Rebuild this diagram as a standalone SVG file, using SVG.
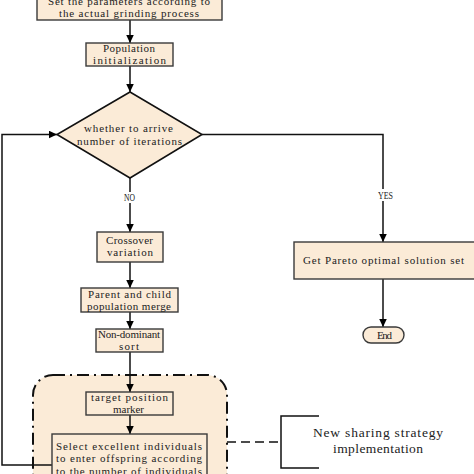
<svg xmlns="http://www.w3.org/2000/svg" width="474" height="474" viewBox="0 0 474 474">
<style>
text{font-family:"Liberation Serif","Times New Roman",serif;font-size:11px;fill:#222}
.box{fill:#FBEBD7;stroke:#3a3a3a;stroke-width:1.4}
.con{fill:none;stroke:#111;stroke-width:1.5}
.big{font-size:13.5px}
</style>
<defs>
<marker id="ah" markerWidth="9" markerHeight="8" refX="8.5" refY="4" orient="auto" markerUnits="userSpaceOnUse">
<path d="M0,0 L8.5,4 L0,8 z" fill="#000"/>
</marker>
</defs>
<rect width="474" height="474" fill="#fff"/>

<g id="container">
<rect x="33" y="375" width="194" height="140" rx="20" fill="#FBEBD7" stroke="#111" stroke-width="2" stroke-dasharray="12,5,2,5"/>
</g>

<g id="connectors">
<path class="con" d="M130,20 V43" marker-end="url(#ah)"/>
<path class="con" d="M130,66 V92" marker-end="url(#ah)"/>
<path class="con" d="M202,134.5 H383 V242" marker-end="url(#ah)"/>
<path class="con" d="M130,178 V232" marker-end="url(#ah)"/>
<path class="con" d="M130,262 V288" marker-end="url(#ah)"/>
<path class="con" d="M130,312 V329" marker-end="url(#ah)"/>
<path class="con" d="M130,352 V392" marker-end="url(#ah)"/>
<path class="con" d="M130,415 V434" marker-end="url(#ah)"/>
<path class="con" d="M383,279 V327" marker-end="url(#ah)"/>
<path class="con" d="M52,465 H2 V134.5 H57" stroke="#555" stroke-width="1.3" marker-end="url(#ah)"/>
<path class="con" d="M227,442 H281" stroke-width="2" stroke-dasharray="9,5"/>
<path class="con" d="M319,416 H281 V468 H319" stroke-width="1.8"/>
<rect x="122" y="192" width="16" height="11" fill="#fff"/>
<text x="124" y="201" font-size="9.5" textLength="11" lengthAdjust="spacingAndGlyphs">NO</text>
<rect x="376" y="189" width="19" height="12" fill="#fff"/>
<text x="378" y="199" font-size="10" textLength="15" lengthAdjust="spacingAndGlyphs">YES</text>
</g>

<g id="n-params">
<rect class="box" x="37" y="-6" width="185" height="26"/>
<text x="48" y="4.5" textLength="162" lengthAdjust="spacing">Set the parameters according to</text>
<text x="59" y="17" textLength="140" lengthAdjust="spacing">the actual grinding process</text>
</g>

<g id="n-init">
<rect class="box" x="86" y="43" width="87" height="23"/>
<text x="103" y="52" textLength="52" lengthAdjust="spacing">Population</text>
<text x="93" y="63.5" textLength="73" lengthAdjust="spacing">initialization</text>
</g>

<g id="n-decision">
<polygon points="130,92 202,134.5 130,178 57,134.5" fill="#FBEBD7" stroke="#111" stroke-width="1.6"/>
<text x="84" y="132" textLength="89" lengthAdjust="spacing">whether to arrive</text>
<text x="77" y="144.5" textLength="105" lengthAdjust="spacing">number of iterations</text>
</g>

<g id="n-pareto">
<rect class="box" x="294" y="242" width="186" height="37"/>
<text x="303" y="264" textLength="161" lengthAdjust="spacing">Get Pareto optimal solution set</text>
</g>

<g id="n-end">
<rect class="box" x="363" y="327" width="41" height="16" rx="8"/>
<text x="377" y="338.5" textLength="15" lengthAdjust="spacing">End</text>
</g>

<g id="n-crossover">
<rect class="box" x="97" y="232" width="66" height="30"/>
<text x="106" y="243.5" textLength="47" lengthAdjust="spacing">Crossover</text>
<text x="107" y="256" textLength="46" lengthAdjust="spacing">variation</text>
</g>

<g id="n-merge">
<rect class="box" x="81" y="288" width="97" height="24"/>
<text x="88" y="297.5" textLength="83" lengthAdjust="spacing">Parent and child</text>
<text x="87" y="309.5" textLength="84" lengthAdjust="spacing">population merge</text>
</g>

<g id="n-sort">
<rect class="box" x="96" y="329" width="67" height="23"/>
<text x="98" y="338" textLength="62" lengthAdjust="spacing">Non-dominant</text>
<text x="119" y="349.5" textLength="20" lengthAdjust="spacing">sort</text>
</g>

<g id="n-target">
<rect class="box" x="86" y="392" width="87" height="23"/>
<text x="91" y="400.5" textLength="77" lengthAdjust="spacing">target position</text>
<text x="113" y="413" textLength="31" lengthAdjust="spacing">marker</text>
</g>

<g id="n-select">
<rect class="box" x="52" y="434" width="155" height="60"/>
<text x="56" y="449.5" textLength="146" lengthAdjust="spacing">Select excellent individuals</text>
<text x="56" y="462" textLength="146" lengthAdjust="spacing">to enter offspring according</text>
<text x="56" y="474.5" textLength="146" lengthAdjust="spacing">to the number of individuals</text>
</g>

<g id="n-label">
<text class="big" x="313" y="437" textLength="130" lengthAdjust="spacing">New sharing strategy</text>
<text class="big" x="333" y="453" textLength="90" lengthAdjust="spacing">implementation</text>
</g>
</svg>
